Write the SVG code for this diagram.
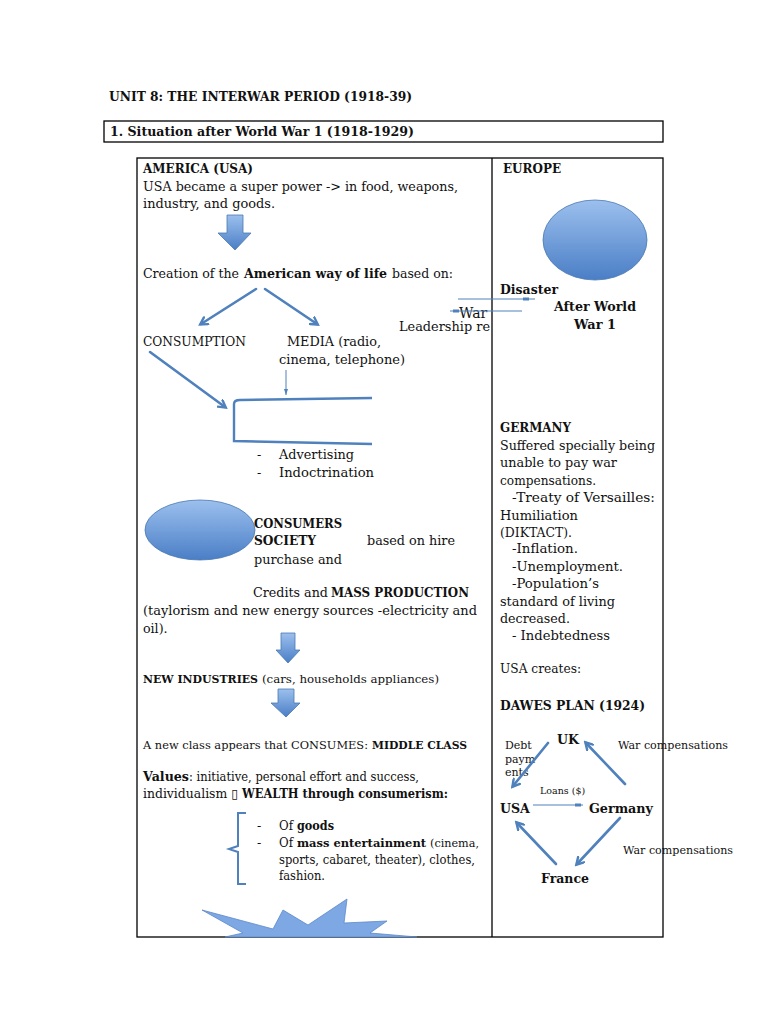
<svg xmlns="http://www.w3.org/2000/svg" width="768" height="1024" viewBox="0 0 768 1024">
<defs>
<style>
text{font-family:"DejaVu Serif","Liberation Serif",serif;font-size:12.6px;fill:#111}
.b{font-weight:bold}
.n{font-size:11.2px}
.sm{font-size:11px}
.xs{font-size:9.5px}
.frame{fill:none;stroke:#000;stroke-width:1.3}
.ar{fill:none;stroke:#4f81bd;stroke-width:2.6;stroke-linecap:round}
.thin{fill:none;stroke:#4f81bd;stroke-width:1}
.blk{fill:url(#g);stroke:#4a78b0;stroke-width:0.8}
</style>
<linearGradient id="g" x1="0" y1="0" x2="0" y2="1">
<stop offset="0" stop-color="#9cc0ee"/>
<stop offset="1" stop-color="#4a7ec6"/>
</linearGradient>
<marker id="ah" markerWidth="10" markerHeight="10" refX="7" refY="5" orient="auto" markerUnits="userSpaceOnUse" viewBox="0 0 10 10">
<path d="M1,1 L8,5 L1,9" fill="none" stroke="#4f81bd" stroke-width="2.4" stroke-linecap="round"/>
</marker>
<marker id="sm" markerWidth="8" markerHeight="6" refX="6" refY="3" orient="auto" markerUnits="userSpaceOnUse">
<path d="M0,1 L6,3 L0,5 Z" fill="#4f81bd"/>
</marker>
</defs>
<rect width="768" height="1024" fill="#fff"/>

<g id="title">
<text class="b" x="109" y="101" textLength="303" lengthAdjust="spacingAndGlyphs">UNIT 8: THE INTERWAR PERIOD (1918-39)</text>
</g>
<g id="section">
<rect class="frame" x="104" y="121" width="559" height="21"/>
<text class="b" x="110" y="136" textLength="304" lengthAdjust="spacingAndGlyphs">1. Situation after World War 1 (1918-1929)</text>
</g>
<g id="table">
<rect class="frame" x="137" y="158" width="526" height="779"/>
<line x1="492" y1="158" x2="492" y2="937" stroke="#000" stroke-width="1.3"/>
</g>

<g id="america">
<text class="b" x="143" y="173" textLength="110" lengthAdjust="spacingAndGlyphs">AMERICA (USA)</text>
<text x="143" y="191" textLength="315" lengthAdjust="spacingAndGlyphs">USA became a super power -&gt; in food, weapons,</text>
<text x="143" y="208" textLength="132" lengthAdjust="spacingAndGlyphs">industry, and goods.</text>
<path class="blk" d="M227,215 H243 V233 H251 L235,250 L218,233 H227 Z"/>
<text x="143" y="278" textLength="96" lengthAdjust="spacingAndGlyphs">Creation of the</text>
<text class="b" x="244" y="278" textLength="143" lengthAdjust="spacingAndGlyphs">American way of life</text>
<text x="392" y="278" textLength="61" lengthAdjust="spacingAndGlyphs">based on:</text>
<text x="143" y="346" textLength="103" lengthAdjust="spacingAndGlyphs">CONSUMPTION</text>
<text x="287" y="346" textLength="94" lengthAdjust="spacingAndGlyphs">MEDIA (radio,</text>
<text x="279" y="364" textLength="126" lengthAdjust="spacingAndGlyphs">cinema, telephone)</text>
<path d="M372,398 L240,400 Q234,400 234,404 V441 L372,444" fill="none" stroke="#4f81bd" stroke-width="2.4"/>
<text x="257" y="459">-</text><text x="279" y="459" textLength="75" lengthAdjust="spacingAndGlyphs">Advertising</text>
<text x="257" y="477">-</text><text x="279" y="477" textLength="95" lengthAdjust="spacingAndGlyphs">Indoctrination</text>
</g>

<g id="consumers">
<ellipse cx="200" cy="530" rx="55" ry="30" class="blk"/>
<text class="b" x="254" y="528" textLength="88" lengthAdjust="spacingAndGlyphs">CONSUMERS</text>
<text class="b" x="254" y="545" textLength="62" lengthAdjust="spacingAndGlyphs">SOCIETY</text>
<text x="367" y="545" textLength="88" lengthAdjust="spacingAndGlyphs">based on hire</text>
<text x="254" y="564" textLength="88" lengthAdjust="spacingAndGlyphs">purchase and</text>
<text x="253" y="597" textLength="75" lengthAdjust="spacingAndGlyphs">Credits and</text>
<text class="b" x="331" y="597" textLength="138" lengthAdjust="spacingAndGlyphs">MASS PRODUCTION</text>
<text x="143" y="615" textLength="334" lengthAdjust="spacingAndGlyphs">(taylorism and new energy sources -electricity and</text>
<text x="143" y="633">oil).</text>
<path class="blk" d="M281,633 H295 V650 H300 L288,663 L276,650 H281 Z"/>
<text class="b n" x="143" y="683" textLength="115" lengthAdjust="spacingAndGlyphs">NEW INDUSTRIES</text>
<text class="n" x="262" y="683" textLength="177" lengthAdjust="spacingAndGlyphs">(cars, households appliances)</text>
<path class="blk" d="M278,689 H294 V703 H300 L286,717 L271,703 H278 Z"/>
<text class="n" x="143" y="749" textLength="225" lengthAdjust="spacingAndGlyphs">A new class appears that CONSUMES:</text>
<text class="b n" x="372" y="749" textLength="95" lengthAdjust="spacingAndGlyphs">MIDDLE CLASS</text>
<text class="b" x="143" y="781" textLength="46" lengthAdjust="spacingAndGlyphs">Values</text>
<text x="189" y="781" textLength="230" lengthAdjust="spacingAndGlyphs">: initiative, personal effort and success,</text>
<text x="143" y="798" textLength="95" lengthAdjust="spacingAndGlyphs">individualism ▯</text>
<text class="b" x="242" y="798" textLength="206" lengthAdjust="spacingAndGlyphs">WEALTH through consumerism:</text>
<path d="M246,813 H238 V846 L229,849 L238,852 V884 H246" fill="none" stroke="#4f81bd" stroke-width="2"/>
<text x="257" y="830">-</text>
<text x="279" y="830" textLength="14" lengthAdjust="spacingAndGlyphs">Of</text>
<text class="b" x="297" y="830" textLength="37" lengthAdjust="spacingAndGlyphs">goods</text>
<text x="257" y="847">-</text>
<text x="279" y="847" textLength="14" lengthAdjust="spacingAndGlyphs">Of</text>
<text class="b n" x="297" y="847" textLength="129" lengthAdjust="spacingAndGlyphs">mass entertainment</text>
<text class="n" x="430" y="847" textLength="49" lengthAdjust="spacingAndGlyphs">(cinema,</text>
<text x="279" y="864" textLength="196" lengthAdjust="spacingAndGlyphs">sports, cabaret, theater), clothes,</text>
<text x="279" y="880" textLength="46" lengthAdjust="spacingAndGlyphs">fashion.</text>
<polygon points="202,910 273,929 283,910 308,925 347,899 344,923 387,921 370,933 417,937 225,937 243,933" fill="#7ea8e4" stroke="#5a88c8" stroke-width="0.8"/>
</g>

<g id="europe">
<text class="b" x="503" y="173" textLength="58" lengthAdjust="spacingAndGlyphs">EUROPE</text>
<ellipse cx="595" cy="240" rx="52" ry="40" class="blk"/>
<text class="b" x="500" y="294" textLength="58" lengthAdjust="spacingAndGlyphs">Disaster</text>
<text class="b" x="554" y="311" textLength="82" lengthAdjust="spacingAndGlyphs">After World</text>
<text class="b" x="574" y="329" textLength="42" lengthAdjust="spacingAndGlyphs">War 1</text>
<text x="459" y="318" style="font-size:14px">War</text>
<text x="399" y="331" textLength="91" lengthAdjust="spacingAndGlyphs">Leadership re</text>
</g>

<g id="germany">
<text class="b" x="500" y="432" textLength="71" lengthAdjust="spacingAndGlyphs">GERMANY</text>
<text x="500" y="450" textLength="155" lengthAdjust="spacingAndGlyphs">Suffered specially being</text>
<text x="500" y="467" textLength="117" lengthAdjust="spacingAndGlyphs">unable to pay war</text>
<text x="500" y="485" textLength="96" lengthAdjust="spacingAndGlyphs">compensations.</text>
<text x="512" y="502" textLength="143" lengthAdjust="spacingAndGlyphs">-Treaty of Versailles:</text>
<text x="500" y="520" textLength="78" lengthAdjust="spacingAndGlyphs">Humiliation</text>
<text x="500" y="537" textLength="72" lengthAdjust="spacingAndGlyphs">(DIKTACT).</text>
<text x="512" y="553" textLength="66" lengthAdjust="spacingAndGlyphs">-Inflation.</text>
<text x="512" y="571" textLength="111" lengthAdjust="spacingAndGlyphs">-Unemployment.</text>
<text x="512" y="588" textLength="87" lengthAdjust="spacingAndGlyphs">-Population’s</text>
<text x="500" y="606" textLength="115" lengthAdjust="spacingAndGlyphs">standard of living</text>
<text x="500" y="623" textLength="70" lengthAdjust="spacingAndGlyphs">decreased.</text>
<text x="512" y="640" textLength="98" lengthAdjust="spacingAndGlyphs">- Indebtedness</text>
<text x="500" y="673" textLength="81" lengthAdjust="spacingAndGlyphs">USA creates:</text>
<text class="b" x="500" y="710" textLength="145" lengthAdjust="spacingAndGlyphs">DAWES PLAN (1924)</text>
</g>

<g id="dawes">
<text class="b" x="557" y="744">UK</text>
<text class="sm" x="505" y="749">Debt</text>
<text class="sm" x="505" y="763">paym</text>
<text class="sm" x="505" y="776">ents</text>
<text class="sm" x="618" y="749" textLength="110" lengthAdjust="spacingAndGlyphs">War compensations</text>
<text class="b" x="500" y="813">USA</text>
<text class="b" x="589" y="813" textLength="64" lengthAdjust="spacingAndGlyphs">Germany</text>
<text class="xs" x="540" y="794">Loans ($)</text>
<text class="sm" x="623" y="854" textLength="110" lengthAdjust="spacingAndGlyphs">War compensations</text>
<text class="b" x="541" y="883" textLength="48" lengthAdjust="spacingAndGlyphs">France</text>
</g>

<g id="connectors">
<line class="ar" x1="256" y1="289" x2="201" y2="324" marker-end="url(#ah)"/>
<line class="ar" x1="265" y1="289" x2="317" y2="324" marker-end="url(#ah)"/>
<line class="ar" x1="150" y1="352" x2="225" y2="407" marker-end="url(#ah)"/>
<line class="thin" x1="286" y1="370" x2="286" y2="395" marker-end="url(#sm)"/>
<line class="thin" x1="458" y1="299" x2="535" y2="299"/>
<rect x="523" y="297.5" width="6" height="3" fill="#4f81bd"/>
<line class="thin" x1="450" y1="311" x2="522" y2="311"/>
<rect x="453" y="309.5" width="6" height="3" fill="#4f81bd"/>
<line class="ar" x1="548" y1="743" x2="513" y2="786" marker-end="url(#ah)"/>
<line class="ar" x1="625" y1="784" x2="586" y2="743" marker-end="url(#ah)"/>
<line class="ar" x1="620" y1="818" x2="577" y2="864" marker-end="url(#ah)"/>
<line class="ar" x1="556" y1="864" x2="517" y2="823" marker-end="url(#ah)"/>
<line class="thin" x1="533" y1="805" x2="583" y2="805"/>
<rect x="575" y="803.5" width="6" height="3" fill="#4f81bd"/>
</g>
</svg>
